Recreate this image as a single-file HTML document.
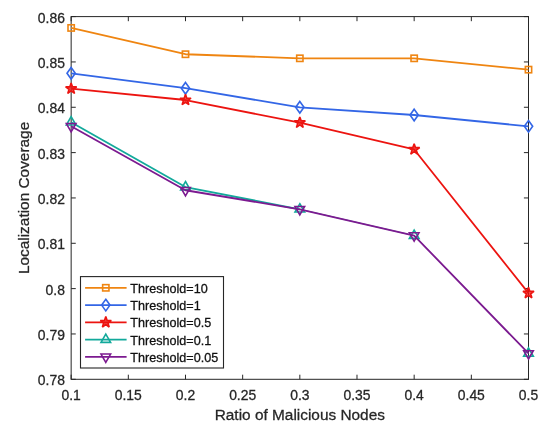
<!DOCTYPE html>
<html lang="en"><head><meta charset="utf-8"><title>Localization Coverage vs Ratio of Malicious Nodes</title>
<style>
html,body{margin:0;padding:0;background:#fff;}
body{width:550px;height:429px;overflow:hidden;}
svg{display:block;}
text{font-family:"Liberation Sans",Arial,Helvetica,sans-serif;fill:#262626;stroke:#262626;stroke-width:0.28px;}
.tk{font-size:13.9px;}
.lb{font-size:15.4px;}
.lg{font-size:12.6px;fill:#111;stroke:#111;}
</style></head><body>
<svg width="550" height="429" viewBox="0 0 550 429">
<rect x="0" y="0" width="550" height="429" fill="#ffffff"/>
<g stroke="#262626" stroke-width="1.0" fill="none">
<rect x="71.15" y="16.6" width="457.35" height="362.70"/>
<path d="M71.15 379.3v-4.6M71.15 16.6v4.6M128.32 379.3v-4.6M128.32 16.6v4.6M185.49 379.3v-4.6M185.49 16.6v4.6M242.66 379.3v-4.6M242.66 16.6v4.6M299.83 379.3v-4.6M299.83 16.6v4.6M356.99 379.3v-4.6M356.99 16.6v4.6M414.16 379.3v-4.6M414.16 16.6v4.6M471.33 379.3v-4.6M471.33 16.6v4.6M528.50 379.3v-4.6M528.50 16.6v4.6M71.15 379.30h4.6M528.5 379.30h-4.6M71.15 333.96h4.6M528.5 333.96h-4.6M71.15 288.62h4.6M528.5 288.62h-4.6M71.15 243.29h4.6M528.5 243.29h-4.6M71.15 197.95h4.6M528.5 197.95h-4.6M71.15 152.61h4.6M528.5 152.61h-4.6M71.15 107.27h4.6M528.5 107.27h-4.6M71.15 61.94h4.6M528.5 61.94h-4.6M71.15 16.60h4.6M528.5 16.60h-4.6"/>
</g>
<g class="tk">
<text x="71.15" y="399.8" text-anchor="middle">0.1</text>
<text x="128.32" y="399.8" text-anchor="middle">0.15</text>
<text x="185.49" y="399.8" text-anchor="middle">0.2</text>
<text x="242.66" y="399.8" text-anchor="middle">0.25</text>
<text x="299.83" y="399.8" text-anchor="middle">0.3</text>
<text x="356.99" y="399.8" text-anchor="middle">0.35</text>
<text x="414.16" y="399.8" text-anchor="middle">0.4</text>
<text x="471.33" y="399.8" text-anchor="middle">0.45</text>
<text x="528.50" y="399.8" text-anchor="middle">0.5</text>
<text x="64.9" y="385.40" text-anchor="end">0.78</text>
<text x="64.9" y="340.06" text-anchor="end">0.79</text>
<text x="64.9" y="294.72" text-anchor="end">0.8</text>
<text x="64.9" y="249.39" text-anchor="end">0.81</text>
<text x="64.9" y="204.05" text-anchor="end">0.82</text>
<text x="64.9" y="158.71" text-anchor="end">0.83</text>
<text x="64.9" y="113.37" text-anchor="end">0.84</text>
<text x="64.9" y="68.04" text-anchor="end">0.85</text>
<text x="64.9" y="22.70" text-anchor="end">0.86</text>
</g>
<text class="lb" x="299.82" y="420" text-anchor="middle">Ratio of Malicious Nodes</text>
<text class="lb" transform="translate(29.3 197.95) rotate(-90)" text-anchor="middle">Localization Coverage</text>
<g><polyline points="71.15,27.93 185.49,54.23 299.82,58.31 414.16,58.31 528.50,69.64" fill="none" stroke="#EF8511" stroke-width="1.8" stroke-linejoin="round"/>
<rect x="68.00" y="24.78" width="6.30" height="6.30" fill="none" stroke="#EF8511" stroke-width="1.6"/>
<rect x="182.34" y="51.08" width="6.30" height="6.30" fill="none" stroke="#EF8511" stroke-width="1.6"/>
<rect x="296.68" y="55.16" width="6.30" height="6.30" fill="none" stroke="#EF8511" stroke-width="1.6"/>
<rect x="411.01" y="55.16" width="6.30" height="6.30" fill="none" stroke="#EF8511" stroke-width="1.6"/>
<rect x="525.35" y="66.49" width="6.30" height="6.30" fill="none" stroke="#EF8511" stroke-width="1.6"/>
</g>
<g><polyline points="71.15,73.27 185.49,88.23 299.82,107.28 414.16,114.98 528.50,126.32" fill="none" stroke="#3366E6" stroke-width="1.8" stroke-linejoin="round"/>
<polygon points="71.15,67.47 75.30,73.27 71.15,79.07 67.00,73.27" fill="none" stroke="#3366E6" stroke-width="1.6" stroke-linejoin="miter" stroke-miterlimit="3"/>
<polygon points="185.49,82.43 189.64,88.23 185.49,94.03 181.34,88.23" fill="none" stroke="#3366E6" stroke-width="1.6" stroke-linejoin="miter" stroke-miterlimit="3"/>
<polygon points="299.82,101.48 303.97,107.28 299.82,113.08 295.68,107.28" fill="none" stroke="#3366E6" stroke-width="1.6" stroke-linejoin="miter" stroke-miterlimit="3"/>
<polygon points="414.16,109.18 418.31,114.98 414.16,120.78 410.01,114.98" fill="none" stroke="#3366E6" stroke-width="1.6" stroke-linejoin="miter" stroke-miterlimit="3"/>
<polygon points="528.50,120.52 532.65,126.32 528.50,132.12 524.35,126.32" fill="none" stroke="#3366E6" stroke-width="1.6" stroke-linejoin="miter" stroke-miterlimit="3"/>
</g>
<g><polyline points="71.15,88.69 185.49,100.02 299.82,122.69 414.16,149.44 528.50,293.16" fill="none" stroke="#EC1410" stroke-width="1.8" stroke-linejoin="round"/>
<polygon points="71.15,82.89 72.48,86.86 76.67,86.89 73.30,89.39 74.56,93.38 71.15,90.95 67.74,93.38 69.00,89.39 65.63,86.89 69.82,86.86" fill="#EC1410" fill-opacity="0.75" stroke="#EC1410" stroke-width="1.6" stroke-linejoin="miter" stroke-miterlimit="3"/>
<polygon points="185.49,94.22 186.82,98.19 191.00,98.23 187.64,100.72 188.90,104.71 185.49,102.28 182.08,104.71 183.34,100.72 179.97,98.23 184.16,98.19" fill="#EC1410" fill-opacity="0.75" stroke="#EC1410" stroke-width="1.6" stroke-linejoin="miter" stroke-miterlimit="3"/>
<polygon points="299.82,116.89 301.15,120.86 305.34,120.90 301.98,123.39 303.23,127.38 299.82,124.95 296.42,127.38 297.67,123.39 294.31,120.90 298.50,120.86" fill="#EC1410" fill-opacity="0.75" stroke="#EC1410" stroke-width="1.6" stroke-linejoin="miter" stroke-miterlimit="3"/>
<polygon points="414.16,143.64 415.49,147.61 419.68,147.65 416.31,150.14 417.57,154.13 414.16,151.70 410.75,154.13 412.01,150.14 408.65,147.65 412.83,147.61" fill="#EC1410" fill-opacity="0.75" stroke="#EC1410" stroke-width="1.6" stroke-linejoin="miter" stroke-miterlimit="3"/>
<polygon points="528.50,287.36 529.83,291.33 534.02,291.37 530.65,293.86 531.91,297.85 528.50,295.42 525.09,297.85 526.35,293.86 522.98,291.37 527.17,291.33" fill="#EC1410" fill-opacity="0.75" stroke="#EC1410" stroke-width="1.6" stroke-linejoin="miter" stroke-miterlimit="3"/>
</g>
<g><polyline points="71.15,122.24 185.49,187.07 299.82,209.28" fill="none" stroke="#12A99B" stroke-width="1.8" stroke-linejoin="round"/>
<polyline points="299.82,209.28 414.16,235.58 528.50,353.46" fill="none" stroke="#12A99B" stroke-width="0.9" stroke-linejoin="round"/>
<polygon points="71.15,116.69 75.96,125.01 66.34,125.01" fill="none" stroke="#12A99B" stroke-width="1.6" stroke-linejoin="miter" stroke-miterlimit="3"/>
<polygon points="185.49,181.52 190.29,189.84 180.68,189.84" fill="none" stroke="#12A99B" stroke-width="1.6" stroke-linejoin="miter" stroke-miterlimit="3"/>
<polygon points="299.82,203.73 304.63,212.06 295.02,212.06" fill="none" stroke="#12A99B" stroke-width="1.6" stroke-linejoin="miter" stroke-miterlimit="3"/>
<polygon points="414.16,230.03 418.97,238.36 409.36,238.36" fill="none" stroke="#12A99B" stroke-width="1.6" stroke-linejoin="miter" stroke-miterlimit="3"/>
<polygon points="528.50,347.91 533.31,356.23 523.69,356.23" fill="none" stroke="#12A99B" stroke-width="1.6" stroke-linejoin="miter" stroke-miterlimit="3"/>
</g>
<g><polyline points="71.15,126.32 185.49,190.24 299.82,209.28 414.16,235.58 528.50,353.46" fill="none" stroke="#7C1A90" stroke-width="1.8" stroke-linejoin="round"/>
<polygon points="71.15,131.87 75.96,123.54 66.34,123.54" fill="none" stroke="#7C1A90" stroke-width="1.6" stroke-linejoin="miter" stroke-miterlimit="3"/>
<polygon points="185.49,195.79 190.29,187.47 180.68,187.47" fill="none" stroke="#7C1A90" stroke-width="1.6" stroke-linejoin="miter" stroke-miterlimit="3"/>
<polygon points="299.82,214.83 304.63,206.51 295.02,206.51" fill="none" stroke="#7C1A90" stroke-width="1.6" stroke-linejoin="miter" stroke-miterlimit="3"/>
<polygon points="414.16,241.13 418.97,232.81 409.36,232.81" fill="none" stroke="#7C1A90" stroke-width="1.6" stroke-linejoin="miter" stroke-miterlimit="3"/>
<polygon points="528.50,359.01 533.31,350.68 523.69,350.68" fill="none" stroke="#7C1A90" stroke-width="1.6" stroke-linejoin="miter" stroke-miterlimit="3"/>
</g>
<rect x="80.5" y="276.6" width="143.0" height="91.40" fill="#ffffff" stroke="#262626" stroke-width="1.1"/>
<line x1="85.1" y1="287.8" x2="126.6" y2="287.8" stroke="#EF8511" stroke-width="1.8"/>
<rect x="102.65" y="284.65" width="6.30" height="6.30" fill="none" stroke="#EF8511" stroke-width="1.6"/>
<text class="lg" x="130.3" y="292.70">Threshold=10</text>
<line x1="85.1" y1="305.1" x2="126.6" y2="305.1" stroke="#3366E6" stroke-width="1.8"/>
<polygon points="105.80,299.30 109.95,305.10 105.80,310.90 101.65,305.10" fill="none" stroke="#3366E6" stroke-width="1.6" stroke-linejoin="miter" stroke-miterlimit="3"/>
<text class="lg" x="130.3" y="310.00">Threshold=1</text>
<line x1="85.1" y1="322.3" x2="126.6" y2="322.3" stroke="#EC1410" stroke-width="1.8"/>
<polygon points="105.80,316.50 107.13,320.47 111.32,320.51 107.95,323.00 109.21,326.99 105.80,324.56 102.39,326.99 103.65,323.00 100.28,320.51 104.47,320.47" fill="#EC1410" fill-opacity="0.75" stroke="#EC1410" stroke-width="1.6" stroke-linejoin="miter" stroke-miterlimit="3"/>
<text class="lg" x="130.3" y="327.20">Threshold=0.5</text>
<line x1="85.1" y1="339.6" x2="126.6" y2="339.6" stroke="#12A99B" stroke-width="1.8"/>
<polygon points="105.80,334.05 110.61,342.38 100.99,342.38" fill="none" stroke="#12A99B" stroke-width="1.6" stroke-linejoin="miter" stroke-miterlimit="3"/>
<text class="lg" x="130.3" y="344.50">Threshold=0.1</text>
<line x1="85.1" y1="356.8" x2="126.6" y2="356.8" stroke="#7C1A90" stroke-width="1.8"/>
<polygon points="105.80,362.35 110.61,354.03 100.99,354.03" fill="none" stroke="#7C1A90" stroke-width="1.6" stroke-linejoin="miter" stroke-miterlimit="3"/>
<text class="lg" x="130.3" y="361.70">Threshold=0.05</text>
</svg></body></html>
